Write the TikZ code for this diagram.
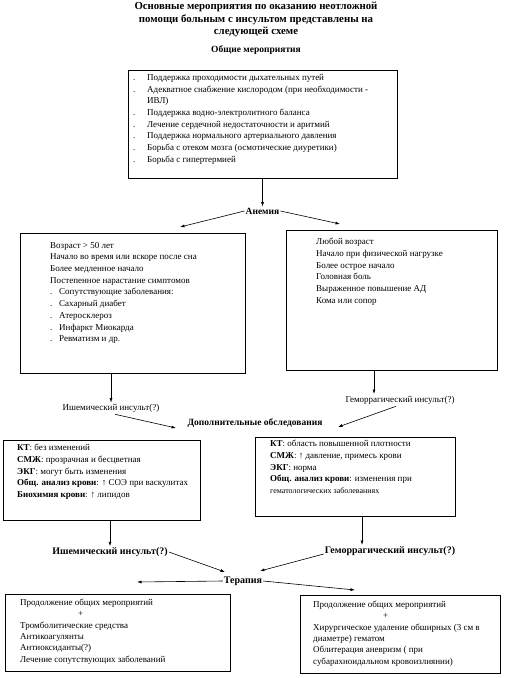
\documentclass[tikz,border=0pt]{standalone}
\usepackage{fontspec}
\setmainfont{Liberation Serif}
\usetikzlibrary{arrows.meta,calc}
\newcommand\bdot[1]{\makebox[#1][l]{.}}
\begin{document}
\begin{tikzpicture}[x=1pt,y=-1pt,
  box/.style={draw, line width=0.8pt, anchor=north west, inner sep=0pt},
  txt/.style={anchor=north west, inner sep=0pt, align=left, font=\fontsize{9}{11.7}\selectfont},
  lbl/.style={inner sep=1pt, font=\fontsize{9}{11}\selectfont},
  blbl/.style={inner sep=1pt, font=\bfseries\fontsize{9.5}{11}\selectfont},
  bbig/.style={inner sep=1pt, font=\bfseries\fontsize{10}{12}\selectfont},
  arr/.style={-{Latex[length=4.5pt,width=3pt]}, line width=0.6pt}]
\useasboundingbox (0,0) rectangle (510,678);

% title
\node[inner sep=0pt, align=center, font=\bfseries\fontsize{10.8}{12.5}\selectfont] (title) at (256,19.5)
  {Основные мероприятия по оказанию неотложной\\помощи больным с инсультом представлены на\\следующей схеме};
\node[blbl] (gen) at (256,50) {Общие мероприятия};

% box 1
\node[box, minimum width=269pt, minimum height=108pt] (b1) at (128,70) {};
\node[txt] (b1t) at (133,74) {\bdot{14pt}Поддержка проходимости дыхательных путей\\
\bdot{14pt}Адекватное снабжение кислородом (при необходимости -\\
\hspace*{14pt}ИВЛ)\\
\bdot{14pt}Поддержка водно-электролитного баланса\\
\bdot{14pt}Лечение сердечной недостаточности и аритмий\\
\bdot{14pt}Поддержка нормального артериального давления\\
\bdot{14pt}Борьба с отеком мозга (осмотические диуретики)\\
\bdot{14pt}Борьба с гипертермией};

\node[blbl] (anem) at (262.5,211) {Анемия};

% anemia boxes
\node[box, minimum width=225pt, minimum height=140pt] (lb) at (20,233) {};
\node[txt] (lbt) at (50,242) {Возраст > 50 лет\\
Начало во время или вскоре после сна\\
Более медленное начало\\
Постепенное нарастание симптомов\\
\bdot{9pt}Сопутствующие заболевания:\\
\bdot{9pt}Сахарный диабет\\
\bdot{9pt}Атеросклероз\\
\bdot{9pt}Инфаркт Миокарда\\
\bdot{9pt}Ревматизм и др.};

\node[box, minimum width=211pt, minimum height=140pt] (rb) at (286,230) {};
\node[txt] (rbt) at (316,238) {Любой возраст\\
Начало при физической нагрузке\\
Более острое начало\\
Головная боль\\
Выраженное повышение АД\\
Кома или сопор};

\node[lbl] (isch1) at (111,408) {Ишемический инсульт(?)};
\node[lbl] (hem1) at (400,400) {Геморрагический инсульт(?)};
\node[blbl] (dex) at (255,423) {Дополнительные обследования};

% exam boxes
\node[box, minimum width=197pt, minimum height=80pt] (el) at (3,440) {};
\node[txt] (elt) at (17,444) {\textbf{КТ}: без изменений\\
\textbf{СМЖ}: прозрачная и бесцветная\\
\textbf{ЭКГ}: могут быть изменения\\
\textbf{Общ. анализ крови}: ↑ СОЭ при васкулитах\\
\textbf{Биохимия крови}: ↑ липидов};

\node[box, minimum width=200pt, minimum height=79pt] (er) at (255,437) {};
\node[txt] (ert) at (270,440) {\textbf{КТ}: область повышенной плотности\\
\textbf{СМЖ}: ↑ давление, примесь крови\\
\textbf{ЭКГ}: норма\\
\textbf{Общ. анализ крови}: изменения при\\
{\fontsize{8}{11.7}\selectfont гематологических заболеваниях}};

\node[bbig] (isch2) at (110,552) {Ишемический инсульт(?)};
\node[bbig] (hem2) at (390,551) {Геморрагический инсульт(?)};
\node[bbig] (ther) at (243,581) {Терапия};

% therapy boxes
\node[box, minimum width=225pt, minimum height=77pt] (tl) at (5,594) {};
\node[txt, font=\fontsize{9}{11.3}\selectfont] (tlt) at (20,599) {Продолжение общих мероприятий\\
\hspace*{58pt}+\\
Тромболитические средства\\
Антикоагулянты\\
Антиоксиданты(?)\\
Лечение сопутствующих заболеваний};

\node[box, minimum width=200pt, minimum height=78pt] (tr) at (300,595) {};
\node[txt, font=\fontsize{9}{11.3}\selectfont] (trt) at (313,601) {Продолжение общих мероприятий\\
\hspace*{70pt}+\\
Хирургическое удаление обширных (3 см в\\
диаметре) гематом\\
Облитерация аневризм ( при\\
субарахноидальном кровоизлиянии)};

% free ends
\coordinate (aL) at (180,227);
\coordinate (aR) at (340,224);
\coordinate (dL) at (176,428);
\coordinate (dR) at (338,427);
\coordinate (tL) at (225,572);
\coordinate (tR) at (260,571);
\coordinate (ttl) at (137,582);
\coordinate (ttr) at (355,590);
\coordinate (hTop) at (374,394);

% connectors
\draw[arr] (b1.south -| anem.north) -- (anem.north);
\draw[arr] (anem.west) -- (aL);
\draw[arr] (anem.east) -- (aR);
\draw[arr] (lb.south -| isch1.north) -- (isch1.north);
\draw[arr] (rb.south -| hTop) -- (hTop);
\draw[arr] ($(isch1.south)+(4,1)$) -- (dL);
\draw[arr] ($(hem1.south)+(-4,1)$) -- (dR);
\draw[arr] (el.south -| isch2.north) -- (isch2.north);
\draw[arr] (er.south -| 362,0) -- (362,545);
\draw[arr] (isch2.east) -- (tL);
\draw[arr] ($(hem2.west)+(0,3)$) -- (tR);
\draw[arr] (ther.west) -- (ttl);
\draw[arr] (ther.east) -- (ttr);
\end{tikzpicture}
\end{document}
